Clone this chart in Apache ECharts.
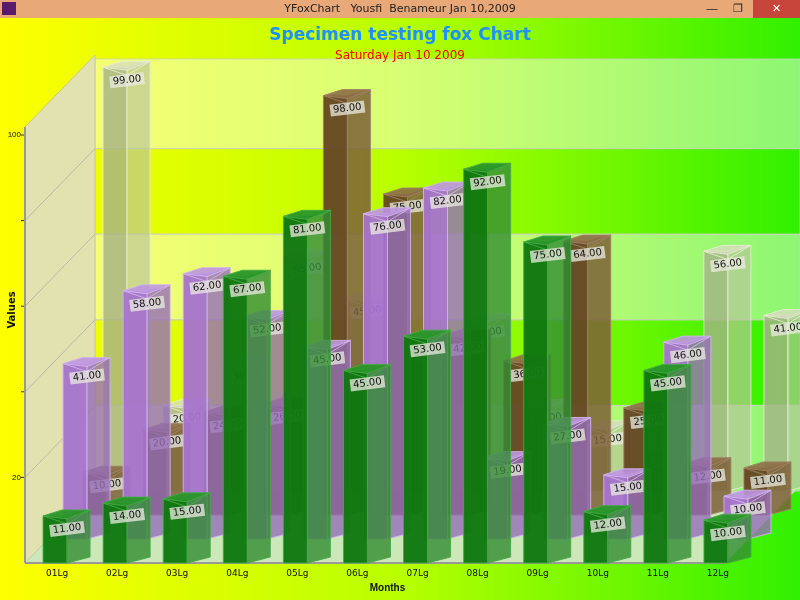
<!DOCTYPE html>
<html><head><meta charset="utf-8">
<script src="https://cdn.jsdelivr.net/npm/echarts@6/dist/echarts.min.js"></script>
<style>html,body{margin:0;padding:0;}#c{width:800px;height:600px;}</style>
</head><body><div id="c"></div>
<script>
const categories = ['01Lg','02Lg','03Lg','04Lg','05Lg','06Lg','07Lg','08Lg','09Lg','10Lg','11Lg','12Lg'];
const greenVals  = [11,14,15,67,81,45,53,92,75,12,45,10];
const purpleVals = [41,58,62,52,45,76,82,19,27,15,46,10];
const brownVals  = [10,20,24,26,98,75,42,36,64,25,12,11];
const beigeVals  = [99,20,30,55,45,30,40,20,15,10,56,41];
const yTicks = [20,100];

const DX = 20, DY = 24, FW = 24, SW = 23, SD = 6;
const WALLX = 70, WALLY = 72;

const seriesDefs = [
  {name:'S4', data:beigeVals, d:3, front:'rgba(165,178,135,0.8)', side:'rgba(185,195,155,0.65)', top:'rgba(215,220,190,0.8)', stroke:'rgba(230,235,210,0.9)'},
  {name:'S3', data:brownVals, d:2, front:'rgba(100,70,35,0.95)', side:'rgba(125,95,55,0.85)', top:'rgba(140,110,70,0.9)', stroke:'rgba(160,130,100,0.9)'},
  {name:'S2', data:purpleVals, d:1, front:'rgba(165,115,205,0.95)', side:'rgba(150,110,185,0.8)', top:'rgba(190,150,225,0.9)', stroke:'rgba(210,180,235,0.9)'},
  {name:'S1', data:greenVals, d:0, front:'rgba(15,120,15,0.97)', side:'rgba(50,140,50,0.8)', top:'rgba(40,150,40,0.95)', stroke:'rgba(70,170,70,0.9)'}
];

function makeRender(def){
  return function(params, api){
    const xi = api.value(0), v = api.value(1);
    const b = api.coord([xi, 0]), t = api.coord([xi, v]);
    const ox = def.d*DX, oy = -def.d*DY;
    const x0 = b[0]-14+ox, by = b[1]+oy, ty = t[1]+oy;
    const st = {stroke:def.stroke, lineWidth:1};
    return {type:'group', children:[
      {type:'rect', shape:{x:x0,y:ty,width:FW,height:by-ty}, style:Object.assign({fill:def.front},st)},
      {type:'polygon', shape:{points:[[x0+FW,ty],[x0+FW+SW,ty-SD],[x0+FW+SW,by-SD],[x0+FW,by]]}, style:Object.assign({fill:def.side},st)},
      {type:'polygon', shape:{points:[[x0,ty],[x0+FW,ty+3],[x0+FW+SW,ty-SD],[x0+SW-4,ty-SD]]}, style:Object.assign({fill:def.top},st)},
      {type:'line', shape:{x1:x0,y1:ty,x2:x0+FW,y2:ty+8}, style:{stroke:def.stroke,lineWidth:1}},
      {type:'line', shape:{x1:x0+FW,y1:ty+8,x2:x0+FW+SW,y2:ty-SD}, style:{stroke:def.stroke,lineWidth:1}},
      {type:'text', x:x0+FW, y:ty+13, rotation:0.12, style:{text:v.toFixed(2), fontSize:10, fontFamily:'DejaVu Sans', fill:'#111', align:'center', verticalAlign:'middle', backgroundColor:'rgba(235,235,225,0.75)', padding:[1,3]}}
    ]};
  };
}

const chart = echarts.init(document.getElementById('c'));
chart.setOption({
  animation:false,
  backgroundColor:{type:'linear',x:0,y:0,x2:1,y2:0,colorStops:[{offset:0,color:'#ffff00'},{offset:0.5,color:'#b8ff00'},{offset:1,color:'#30f000'}]},
  title:[
    {text:'Specimen testing fox Chart', left:'center', top:22, textStyle:{color:'#1e90ff', fontSize:17, fontWeight:'bold', fontFamily:'DejaVu Sans'}},
    {text:'Saturday Jan 10 2009', left:'center', top:45, textStyle:{color:'#ff0000', fontSize:12, fontWeight:'normal', fontFamily:'DejaVu Sans'}}
  ],
  grid:{left:27, right:52, top:135, bottom:37, containLabel:false, outerBoundsMode:'none'},
  xAxis:{type:'category', data:categories, axisLine:{show:false}, axisTick:{show:false},
    axisLabel:{fontSize:9, color:'#111', margin:6, fontFamily:'DejaVu Sans'},
    name:'Months', nameLocation:'middle', nameGap:17, nameTextStyle:{fontSize:10, fontWeight:'bold', color:'#111'}},
  yAxis:{type:'value', min:0, max:100, interval:20, splitLine:{show:false}, axisLine:{show:false},
    axisTick:{show:false},
    axisLabel:{fontSize:8, color:'#111', margin:6, formatter:function(v){return yTicks.indexOf(v)>=0?String(v):'';}}},
  series: seriesDefs.map(function(def){
    return {type:'custom', name:def.name, clip:false, renderItem:makeRender(def),
      data:def.data.map(function(v,i){return [i,v];}), z:2};
  })
});

const p0 = chart.convertToPixel({gridIndex:0}, [0,0]);
const pL = chart.convertToPixel({gridIndex:0}, [0,100]);
const gx0 = 25, gx1 = 725;
const y0 = p0[1], yTop = pL[1];
const g = [];
g.push({type:'rect', shape:{x:0,y:0,width:800,height:18}, style:{fill:'#e9a878'}, z:10});
g.push({type:'rect', shape:{x:2,y:2,width:14,height:13}, style:{fill:'#5a1a6a'}, z:10});
g.push({type:'text', x:400, y:9, style:{text:'YFoxChart   Yousfi  Benameur Jan 10,2009', fontSize:11, fill:'#222', align:'center', verticalAlign:'middle', fontFamily:'DejaVu Sans'}, z:10});
g.push({type:'text', x:712, y:9, style:{text:'—', fontSize:11, fill:'#222', align:'center', verticalAlign:'middle'}, z:10});
g.push({type:'text', x:738, y:9, style:{text:'❐', fontSize:11, fill:'#222', align:'center', verticalAlign:'middle'}, z:10});
g.push({type:'rect', shape:{x:753,y:0,width:47,height:18}, style:{fill:'#c7453a'}, z:10});
g.push({type:'text', x:776, y:9, style:{text:'✕', fontSize:11, fill:'#fff', align:'center', verticalAlign:'middle'}, z:10});
g.push({type:'text', x:12, y:310, rotation:Math.PI/2, style:{text:'Values', fontSize:10, fontWeight:'bold', fill:'#111', align:'center', verticalAlign:'middle', fontFamily:'DejaVu Sans'}, z:10});
const bx0 = gx0+WALLX, bx1 = 800;
for (let k=0;k<5;k++){
  const ya = chart.convertToPixel({gridIndex:0},[0,100-20*k])[1]-WALLY+ (k===0?-4:0);
  const yb = chart.convertToPixel({gridIndex:0},[0,80-20*k])[1]-WALLY;
  g.push({type:'rect', shape:{x:bx0,y:ya,width:bx1-bx0,height:yb-ya}, style:{fill:(k%2===0)?'rgba(255,255,255,0.45)':'rgba(255,255,255,0)', stroke:'rgba(200,210,190,0.8)', lineWidth:1}, z:0});
}
g.push({type:'polygon', shape:{points:[[gx0,yTop-8],[gx0+WALLX,yTop-WALLY-8],[gx0+WALLX,y0-WALLY],[gx0,y0]]}, style:{fill:'#e2e2b0', stroke:'#c8c8a0'}, z:0});
[20,40,60,80].forEach(function(v){
  const y = chart.convertToPixel({gridIndex:0},[0,v])[1];
  g.push({type:'line', shape:{x1:gx0,y1:y,x2:gx0+WALLX,y2:y-WALLY}, style:{stroke:'#b8b8a0'}, z:0});
});
[20,40,60,80,100].forEach(function(v){
  const y = chart.convertToPixel({gridIndex:0},[0,v])[1];
  g.push({type:'line', shape:{x1:gx0-4,y1:y,x2:gx0,y2:y}, style:{stroke:'#333'}, z:0});
});
g.push({type:'line', shape:{x1:gx0,y1:yTop-8,x2:gx0,y2:y0}, style:{stroke:'#999',lineWidth:2}, z:0});
g.push({type:'polygon', shape:{points:[[gx0,y0],[gx0+WALLX,y0-WALLY],[gx1+WALLX,y0-WALLY],[gx1,y0]]}, style:{fill:'#cce8b8', stroke:'#b8d8a8'}, z:0});
g.push({type:'line', shape:{x1:gx0,y1:y0,x2:gx1,y2:y0}, style:{stroke:'#999',lineWidth:2}, z:0});
chart.setOption({graphic:g.map(function(e){e.silent=true;return e;})});
</script></body></html>
